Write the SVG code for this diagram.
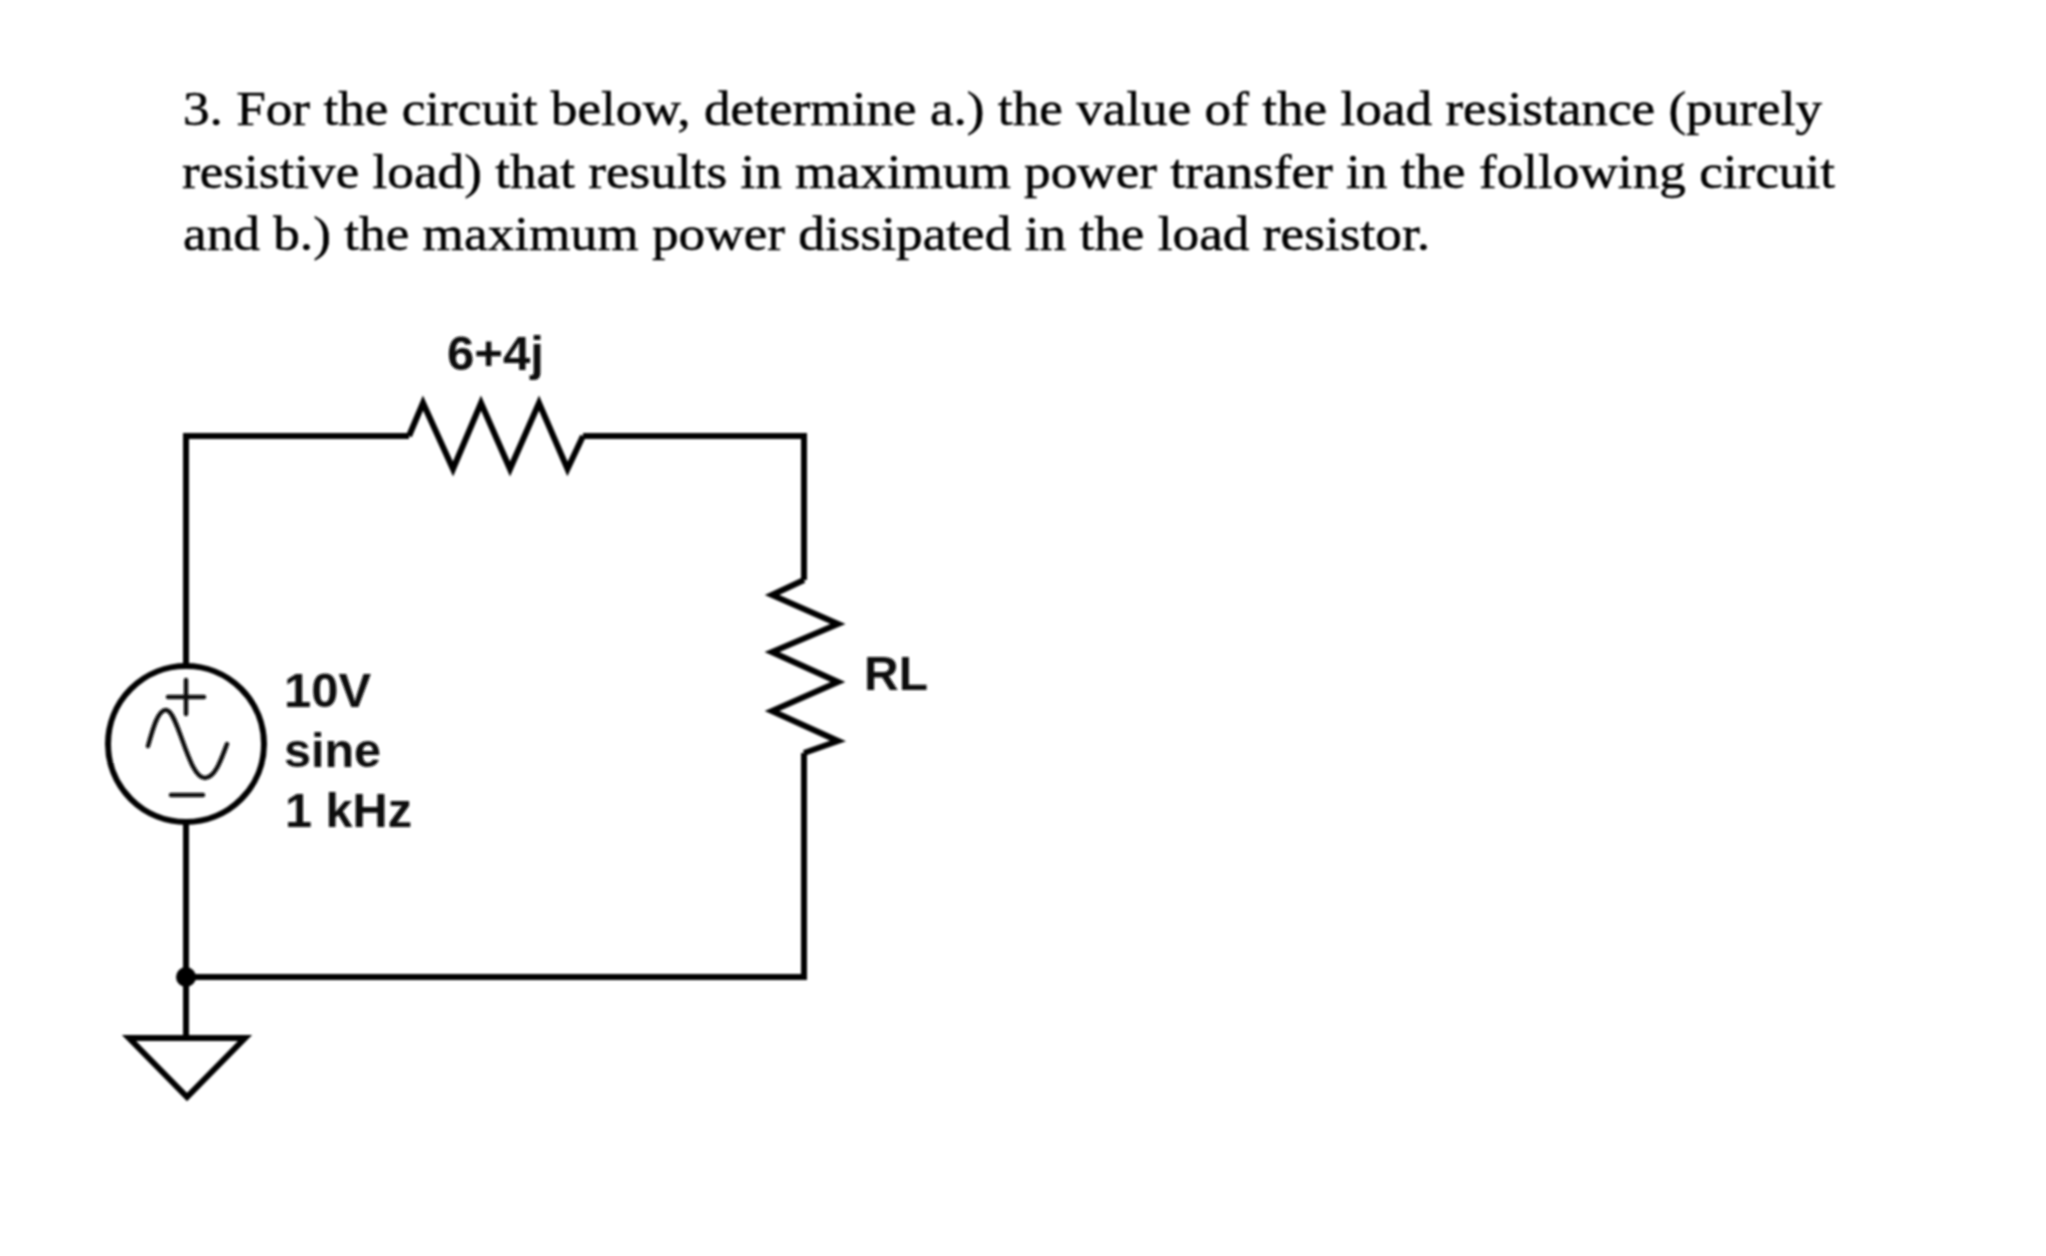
<svg xmlns="http://www.w3.org/2000/svg" width="2046" height="1256" viewBox="0 0 2046 1256">
<defs><filter id="soft" filterUnits="userSpaceOnUse" x="0" y="0" width="2046" height="1256"><feGaussianBlur stdDeviation="0.8"/></filter></defs>
<style>
.w{fill:none;stroke:#000;stroke-width:6;stroke-linejoin:miter;stroke-linecap:butt}
.t{fill:none;stroke:#111;stroke-width:4.500;stroke-linecap:round}
.q{font-family:"Liberation Serif","Times New Roman",serif;font-size:49px;fill:#000;stroke:#000;stroke-width:.5}
.l{font-family:"Liberation Sans",Arial,sans-serif;font-size:48px;font-weight:bold;fill:#111}
</style>
<rect width="2046" height="1256" fill="#fff"/>
<g filter="url(#soft)">
<g id="question">
<text class="q" x="183" y="125" textLength="1639" lengthAdjust="spacingAndGlyphs">3. For the circuit below, determine a.) the value of the load resistance (purely</text>
<text class="q" x="182" y="188" textLength="1653" lengthAdjust="spacingAndGlyphs">resistive load) that results in maximum power transfer in the following circuit</text>
<text class="q" x="183" y="250" textLength="1247" lengthAdjust="spacingAndGlyphs">and b.) the maximum power dissipated in the load resistor.</text>
</g>
<g id="connectors">
<path class="w" d="M186 665V436H409M583 436H804V580M804 753V977H186M186 823V1037"/>
</g>
<g id="source">
<circle class="w" cx="186" cy="744" r="78"/>
<path class="t" d="M168 697H204M186 680V714M171 795H203"/>
<path class="t" d="M148 746C153 728 158 710 166 710C178 710 188 778 205 778C215 778 221 760 227 744"/>
<text class="l" x="284" y="707" textLength="87" lengthAdjust="spacingAndGlyphs">10V</text>
<text class="l" x="284" y="767" textLength="97" lengthAdjust="spacingAndGlyphs">sine</text>
<text class="l" x="285" y="827" textLength="127" lengthAdjust="spacingAndGlyphs">1 kHz</text>
</g>
<g id="z-source">
<path class="w" d="M409 436L423 403L453 469L481 403L510 469L539 403L567.500 469L583 436"/>
<text class="l" x="447" y="370" textLength="97" lengthAdjust="spacingAndGlyphs">6+4j</text>
</g>
<g id="load">
<path class="w" d="M804 580L772 595L838 624L772 652L838 682L772 711L838 741L804 753"/>
<text class="l" x="864" y="690" textLength="64" lengthAdjust="spacingAndGlyphs">RL</text>
</g>
<g id="node"><circle cx="186" cy="977" r="10"/></g>
<g id="ground"><path class="w" d="M129 1038H245L187 1097Z"/></g>
</g>
</svg>
